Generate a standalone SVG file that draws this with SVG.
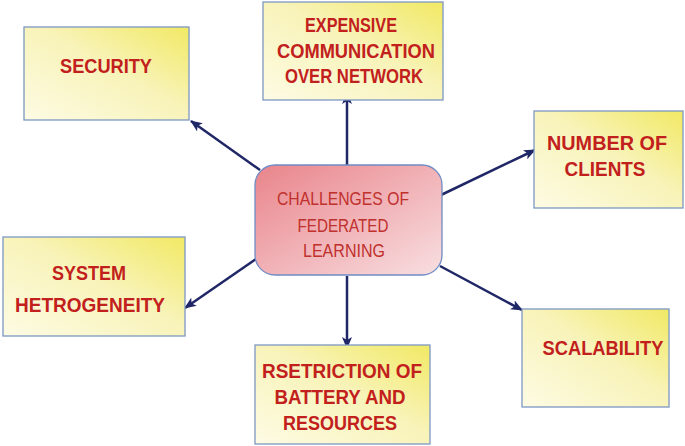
<svg xmlns="http://www.w3.org/2000/svg" width="685" height="446" viewBox="0 0 685 446">
<defs>
<linearGradient id="yel" x1="0" y1="1" x2="1" y2="0">
<stop offset="0" stop-color="#fdfbe4"/>
<stop offset="0.55" stop-color="#f8f3b8"/>
<stop offset="1" stop-color="#f1e964"/>
</linearGradient>
<linearGradient id="red" x1="0" y1="0" x2="1" y2="1">
<stop offset="0" stop-color="#e9848b"/>
<stop offset="1" stop-color="#f8dfe1"/>
</linearGradient>
<marker id="ah" markerUnits="userSpaceOnUse" markerWidth="12" markerHeight="10" refX="11" refY="5" orient="auto">
<path d="M0,0 L12,5 L0,10 L3,5 Z" fill="#1f2766"/>
</marker>
<style>
.box{fill:url(#yel);stroke:#7d97c4;stroke-width:1.3}
.lbl{font-family:"Liberation Sans",Arial,sans-serif;font-weight:bold;font-size:21px;fill:#c2201c;text-anchor:middle}
.ctr{font-family:"Liberation Sans",Arial,sans-serif;font-size:18px;fill:#c0302c;text-anchor:middle}
.con{stroke:#1f2766;stroke-width:2.5;fill:none;marker-end:url(#ah)}
</style>
</defs>
<rect width="685" height="446" fill="#ffffff"/>
<g id="connectors">
<line class="con" x1="260" y1="170" x2="191" y2="121"/>
<line class="con" x1="347" y1="165" x2="347" y2="93"/>
<line class="con" x1="441" y1="195" x2="535" y2="150"/>
<line class="con" x1="256" y1="259" x2="185" y2="308"/>
<line class="con" x1="347" y1="276" x2="347" y2="348"/>
<line class="con" x1="440" y1="266" x2="522" y2="310"/>
</g>
<g id="center">
<rect x="255" y="165" width="187" height="110" rx="20" ry="20" fill="url(#red)" stroke="#6f8cc4" stroke-width="1.3"/>
<text class="ctr" x="343" y="205" textLength="132" lengthAdjust="spacingAndGlyphs">CHALLENGES OF</text>
<text class="ctr" x="343" y="232" textLength="91" lengthAdjust="spacingAndGlyphs">FEDERATED</text>
<text class="ctr" x="344" y="257" textLength="82" lengthAdjust="spacingAndGlyphs">LEARNING</text>
</g>
<g id="security">
<rect class="box" x="24" y="27" width="165" height="93"/>
<text class="lbl" x="106" y="73" textLength="92" lengthAdjust="spacingAndGlyphs">SECURITY</text>
</g>
<g id="expensive">
<rect class="box" x="263" y="2" width="180" height="98"/>
<text class="lbl" x="351" y="32" textLength="92" lengthAdjust="spacingAndGlyphs">EXPENSIVE</text>
<text class="lbl" x="356" y="58" textLength="158" lengthAdjust="spacingAndGlyphs">COMMUNICATION</text>
<text class="lbl" x="354" y="83" textLength="138" lengthAdjust="spacingAndGlyphs">OVER NETWORK</text>
</g>
<g id="clients">
<rect class="box" x="534" y="111" width="149" height="97"/>
<text class="lbl" x="607" y="150" textLength="120" lengthAdjust="spacingAndGlyphs">NUMBER OF</text>
<text class="lbl" x="605" y="176" textLength="81" lengthAdjust="spacingAndGlyphs">CLIENTS</text>
</g>
<g id="system">
<rect class="box" x="3" y="237" width="182" height="99"/>
<text class="lbl" x="89" y="280" textLength="74" lengthAdjust="spacingAndGlyphs">SYSTEM</text>
<text class="lbl" x="90" y="312" textLength="150" lengthAdjust="spacingAndGlyphs">HETROGENEITY</text>
</g>
<g id="restriction">
<rect class="box" x="255" y="345" width="175" height="99"/>
<text class="lbl" x="342" y="378" textLength="160" lengthAdjust="spacingAndGlyphs">RSETRICTION OF</text>
<text class="lbl" x="340" y="404" textLength="131" lengthAdjust="spacingAndGlyphs">BATTERY AND</text>
<text class="lbl" x="340" y="430" textLength="114" lengthAdjust="spacingAndGlyphs">RESOURCES</text>
</g>
<g id="scalability">
<rect class="box" x="522" y="309" width="147" height="98"/>
<text class="lbl" x="603" y="355" textLength="121" lengthAdjust="spacingAndGlyphs">SCALABILITY</text>
</g>
</svg>
